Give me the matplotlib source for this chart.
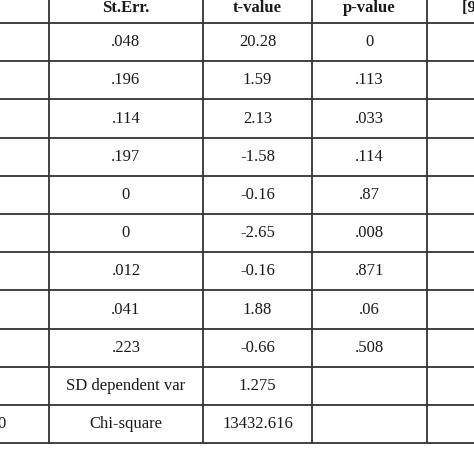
import matplotlib
matplotlib.use("Agg")
import matplotlib.pyplot as plt

headers = ["St.Err.", "t-value", "p-value"]
st_err = [".048", ".196", ".114", ".197", "0", "0", ".012", ".041", ".223", "SD dependent var", "Chi-square"]
t_value = ["20.28", "1.59", "2.13", "-1.58", "-0.16", "-2.65", "-0.16", "1.88", "-0.66", "1.275", "13432.616"]
p_value = ["0", ".113", ".033", ".114", ".87", ".008", ".871", ".06", ".508", "", ""]

fig = plt.figure(figsize=(4.74, 4.74), dpi=100)
ax = fig.add_axes([0, 0, 1, 1])
ax.set_xlim(0, 474)
ax.set_ylim(474, 0)
ax.axis("off")

vx = [49, 203, 312, 427]
hy = [23 + i * 38.2 for i in range(12)]
lc = "#333333"
for x in vx:
    ax.plot([x, x], [-5, hy[-1]], color=lc, lw=1.3)
for y in hy:
    ax.plot([-5, 480], [y, y], color=lc, lw=1.3)

font = dict(family="Liberation Serif", fontsize=12, color="#1a1a1a")
centers = [(vx[0] + vx[1]) / 2, (vx[1] + vx[2]) / 2, (vx[2] + vx[3]) / 2]
for c, h in zip(centers, headers):
    ax.text(c, 8, h, ha="center", va="center", fontweight="bold", **font)
ax.text(462, 8, "[95% Conf", ha="left", va="center", fontweight="bold", **font)
for i in range(len(st_err)):
    y = (hy[i] + hy[i + 1]) / 2
    for c, col in zip(centers, [st_err, t_value, p_value]):
        ax.text(c, y, col[i], ha="center", va="center", **font)
ax.text(6, (hy[10] + hy[11]) / 2, "0", ha="right", va="center", **font)

fig.savefig("out.png", dpi=100, facecolor="white")
